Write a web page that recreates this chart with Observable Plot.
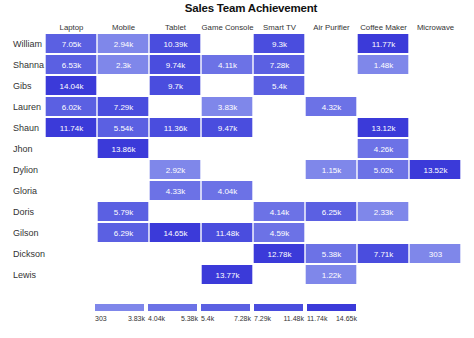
<!DOCTYPE html>
<html>
<head>
<meta charset="utf-8">
<script src="https://cdn.jsdelivr.net/npm/d3@7"></script>
<script src="https://cdn.jsdelivr.net/npm/@observablehq/plot@0.6"></script>
<style>
  body { margin: 0; background: #fff; font-family: "Liberation Sans", Arial, sans-serif; }
  #title { width: 474px; height: 16px; line-height: 17px; font-size: 11.5px; font-weight: bold; letter-spacing: -0.2px;
           text-align: center; padding-left: 28px; box-sizing: border-box; color: #111; }
  svg { display: block; }
</style>
</head>
<body>
<div id="title">Sales Team Achievement</div>
<div id="chart"></div>
<div id="legend"></div>
<script>
const products = ["Laptop", "Mobile", "Tablet", "Game Console", "Smart TV", "Air Purifier", "Coffee Maker", "Microwave"];
const people = ["William", "Shanna", "Gibs", "Lauren", "Shaun", "Jhon", "Dylion", "Gloria", "Doris", "Gilson", "Dickson", "Lewis"];
// one row per person, one entry per product (null = no sale)
const William = [7050, 2940, 10390, null, 9300, null, 11770, null];
const Shanna  = [6530, 2300, 9740, 4110, 7280, null, 1480, null];
const Gibs    = [14040, null, 9700, null, 5400, null, null, null];
const Lauren  = [6020, 7290, null, 3830, null, 4320, null, null];
const Shaun   = [11740, 5540, 11360, 9470, null, null, 13120, null];
const Jhon    = [null, 13860, null, null, null, null, 4260, null];
const Dylion  = [null, null, 2920, null, null, 1150, 5020, 13520];
const Gloria  = [null, null, 4330, 4040, null, null, null, null];
const Doris   = [null, 5790, null, null, 4140, 6250, 2330, null];
const Gilson  = [null, 6290, 14650, 11480, 4590, null, null, null];
const Dickson = [null, null, null, null, 12780, 5380, 7710, 303];
const Lewis   = [null, null, null, 13770, null, 1220, null, null];
const rows = [William, Shanna, Gibs, Lauren, Shaun, Jhon, Dylion, Gloria, Doris, Gilson, Dickson, Lewis];
const colors = ["#7f87ea", "#6c72e6", "#5b60e2", "#4a4dde", "#3b3ad9"];

const data = [];
rows.forEach((r, i) => r.forEach((v, j) => { if (v != null) data.push({person: people[i], product: products[j], value: v}); }));

const fmt = v => v >= 1000 ? (+(v / 1000).toFixed(2)) + "k" : String(v);

const chart = Plot.plot({
  width: 474,
  height: 271,
  marginTop: 15,
  marginBottom: 0,
  marginLeft: 45,
  marginRight: 13,
  style: {fontFamily: "Liberation Sans, Arial, sans-serif", background: "#fff"},
  x: {domain: products, padding: 0},
  y: {domain: people, padding: 0},
  color: {type: "quantile", quantiles: 5, range: colors},
  marks: [
    Plot.axisX({anchor: "top", tickSize: 0, tickPadding: 2, fontSize: 7.8, label: null, fill: "#333"}),
    Plot.axisY({anchor: "left", tickSize: 0, tickPadding: 32.5, textAnchor: "start", fontSize: 9, label: null, fill: "#333"}),
    Plot.cell(data, {x: "product", y: "person", fill: "value", insetLeft: 0.7, insetRight: 0.7, insetTop: 1, insetBottom: 1}),
    Plot.text(data, {x: "product", y: "person", text: d => fmt(d.value), fill: "white", fontSize: 8})
  ]
});
document.getElementById("chart").append(chart);

// legend: bins of the same quantile scale, labelled with each bin's min and max
const values = data.map(d => d.value);
const q = d3.scaleQuantile().domain(values).range(d3.range(5));
const bins = d3.range(5).map(b => {
  const vs = values.filter(v => q(v) === b);
  return {bin: b, lo: d3.min(vs), hi: d3.max(vs)};
});

const legend = Plot.plot({
  width: 474,
  height: 44,
  marginTop: 17,
  marginBottom: 20,
  marginLeft: 93,
  marginRight: 116,
  style: {fontFamily: "Liberation Sans, Arial, sans-serif", background: "#fff"},
  x: {domain: d3.range(5), paddingInner: 0.075, paddingOuter: 0, axis: null},
  marks: [
    Plot.cell(bins, {x: "bin", fill: d => colors[d.bin]}),
    Plot.text(bins, {x: "bin", text: d => fmt(d.lo), frameAnchor: "bottom", dy: 9, dx: -25, textAnchor: "start", fontSize: 7, fill: "#333"}),
    Plot.text(bins, {x: "bin", text: d => fmt(d.hi), frameAnchor: "bottom", dy: 9, dx: 25, textAnchor: "end", fontSize: 7, fill: "#333"})
  ]
});
document.getElementById("legend").append(legend);
</script>
</body>
</html>
